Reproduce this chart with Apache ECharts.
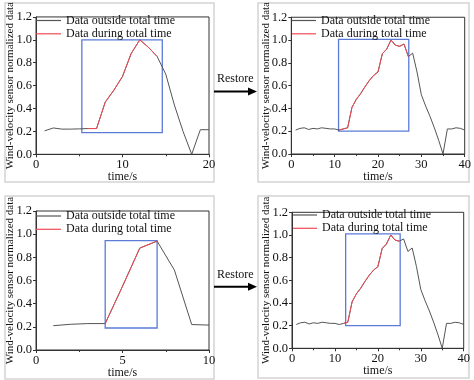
<!DOCTYPE html>
<html lang="en">
<head>
    <meta charset="UTF-8">
    <title>Restore</title>
    <script src="https://cdn.jsdelivr.net/npm/echarts@6/dist/echarts.min.js"></script>
    <style>
        html, body { margin: 0; padding: 0; background: #fff; }
        #main { width: 474px; height: 380px; }
    </style>
</head>
<body>
<div id="main"></div>
<script>
    // 数据
    var outsideName = 'Data outside total time';
    var duringName = 'Data during total time';

    var time1 = [1, 2, 3, 4, 5, 6, 7, 8, 9, 10, 11, 12, 13, 14, 15, 16, 17, 18, 19, 20];
    var value1 = [0.205, 0.23, 0.22, 0.22, 0.222, 0.225, 0.225, 0.455, 0.56, 0.68,
                  0.88, 1.0, 0.935, 0.855, 0.70, 0.43, 0.20, 0.0, 0.215, 0.215];
    var redTime1 = [6, 7, 8, 9, 10, 11, 12, 13, 14];
    var redValue1 = [0.225, 0.225, 0.455, 0.56, 0.68, 0.88, 1.0, 0.935, 0.855];
    var box1 = [5.3, 0.19, 14.6, 1.0];

    var time2 = [1, 2, 3, 4, 5, 6, 7, 8, 9, 10, 11, 12, 13, 14, 15, 16, 17, 18, 19, 20,
                 21, 22, 23, 24, 25, 26, 27, 28, 29, 30, 31, 32, 33, 34, 35, 36, 37, 38, 39, 40];
    var value2 = [0.21, 0.225, 0.23, 0.215, 0.225, 0.22, 0.23, 0.225, 0.22, 0.22,
                  0.21, 0.22, 0.23, 0.41, 0.48, 0.53, 0.59, 0.645, 0.69, 0.72,
                  0.88, 0.92, 1.0, 0.955, 0.945, 0.965, 0.855, 0.885, 0.72, 0.52,
                  0.42, 0.33, 0.23, 0.12, 0.0, 0.22, 0.22, 0.23, 0.225, 0.21];
    var redTime2 = [11, 12, 13, 14, 15, 16, 17, 18, 19, 20, 21, 22, 23, 24, 25, 26, 27];
    var redValue2 = [0.21, 0.22, 0.23, 0.41, 0.48, 0.53, 0.59, 0.645, 0.69, 0.72,
                     0.88, 0.92, 1.0, 0.955, 0.945, 0.965, 0.855];
    var box2 = [10.9, 0.2, 27.1, 1.005];

    var time3 = [1, 2, 3, 4, 5, 6, 7, 8, 9, 10];
    var value3 = [0.21, 0.222, 0.228, 0.228, 0.55, 0.88, 0.94, 0.69, 0.22, 0.215];
    var redTime3 = [4, 5, 6, 7];
    var redValue3 = [0.228, 0.55, 0.88, 0.94];
    var box3 = [4.0, 0.19, 7.0, 0.945];

    var time4 = time2;
    var value4 = value2;
    var redTime4 = [12, 13, 14, 15, 16, 17, 18, 19, 20, 21, 22, 23, 24, 25];
    var redValue4 = [0.22, 0.23, 0.41, 0.48, 0.53, 0.59, 0.645, 0.69, 0.72,
                     0.88, 0.92, 1.0, 0.955, 0.945];
    var box4 = [12.5, 0.2, 25.2, 1.01];

    var xMax = [20, 40, 10, 40];
    var xInterval = [10, 10, 5, 10];

    var FONT = '"Liberation Serif", "Times New Roman", serif';
    var GRAY = '#555';
    var RED = '#f04a55';
    var BLUE = '#5b7bd6';

    function pairs(t, v) {
        return t.map(function (x, i) { return [x, v[i]]; });
    }

    var grids = [
        { left: 36, top: 15.7, width: 173, height: 138.6 },
        { left: 291.3, top: 14.3, width: 173.4, height: 139.7 },
        { left: 36, top: 211, width: 173, height: 140 },
        { left: 292, top: 212.3, width: 171.7, height: 136 }
    ];
    var legendPos = [
        { left: 36, top: 14.5, w: 25 },
        { left: 292, top: 14.5, w: 24 },
        { left: 36, top: 210, w: 25 },
        { left: 293, top: 209, w: 24 }
    ];
    var lines = [
        [time1, value1, redTime1, redValue1, box1],
        [time2, value2, redTime2, redValue2, box2],
        [time3, value3, redTime3, redValue3, box3],
        [time4, value4, redTime4, redValue4, box4]
    ];

    var option = {
        animation: false,
        backgroundColor: '#fff',
        textStyle: { fontFamily: FONT },
        grid: [], xAxis: [], yAxis: [], legend: [], series: [],
        graphic: []
    };

    grids.forEach(function (g, i) {
        option.grid.push({
            left: g.left, top: g.top, width: g.width, height: g.height,
            show: true, borderColor: '#333', borderWidth: 1, backgroundColor: 'transparent'
        });
        option.xAxis.push({
            gridIndex: i, type: 'value', min: 0, max: xMax[i], interval: xInterval[i],
            name: 'time/s', nameLocation: 'middle', nameGap: 17, nameMoveOverlap: false,
            nameTextStyle: { fontFamily: FONT, fontSize: 12, color: '#111' },
            axisLine: { show: true, lineStyle: { color: '#333', width: 1 } },
            axisTick: { show: true, length: 3, lineStyle: { color: '#333' } },
            minorTick: { show: true, splitNumber: 2, length: 2, lineStyle: { color: '#333' } },
            axisLabel: { fontFamily: FONT, fontSize: 12.5, color: '#111', margin: 4 },
            splitLine: { show: false }
        });
        option.yAxis.push({
            gridIndex: i, type: 'value', min: 0, max: 1.2, interval: 0.2,
            name: 'Wind-velocity sensor normalized data', nameLocation: 'middle', nameGap: 20,
            nameMoveOverlap: false,
            nameTextStyle: { fontFamily: FONT, fontSize: 11, color: '#111' },
            axisLine: { show: true, lineStyle: { color: '#333', width: 1 } },
            axisTick: { show: true, length: 3, lineStyle: { color: '#333' } },
            axisLabel: {
                fontFamily: FONT, fontSize: 12.5, color: '#111', margin: 4,
                formatter: function (v) { return v.toFixed(1); }
            },
            splitLine: { show: false }
        });
        var lp = legendPos[i];
        option.legend.push({
            left: lp.left, top: lp.top, orient: 'vertical', padding: 0,
            icon: 'rect', itemWidth: lp.w, itemHeight: 1.2, itemGap: 1.3,
            data: [outsideName, duringName],
            textStyle: { fontFamily: FONT, fontSize: 12, color: '#111', lineHeight: 12 }
        });
        var d = lines[i];
        var b = d[4];
        option.series.push({
            name: outsideName, type: 'line', xAxisIndex: i, yAxisIndex: i,
            data: pairs(d[0], d[1]), symbol: 'none', z: 2,
            lineStyle: { color: GRAY, width: 1 }, itemStyle: { color: GRAY }
        });
        option.series.push({
            name: duringName, type: 'line', xAxisIndex: i, yAxisIndex: i,
            data: pairs(d[2], d[3]), symbol: 'none', z: 3,
            lineStyle: { color: RED, width: 1 }, itemStyle: { color: RED },
            markArea: {
                silent: true,
                itemStyle: { color: 'rgba(0,0,0,0)', borderColor: BLUE, borderWidth: 1.3 },
                data: [[{ xAxis: b[0], yAxis: b[1] }, { xAxis: b[2], yAxis: b[3] }]]
            }
        });
    });

    // 外框与箭头
    var frames = [[5, 3, 209, 179], [258, 3, 211, 179], [5, 196, 209, 183], [258, 196, 211, 182]];
    frames.forEach(function (f) {
        option.graphic.push({
            type: 'rect', z: -10, silent: true,
            shape: { x: f[0], y: f[1], width: f[2], height: f[3] },
            style: { fill: 'none', stroke: '#d4d4d4', lineWidth: 1.5 }
        });
    });
    [[91.5, 80], [286.7, 276]].forEach(function (a) {
        option.graphic.push({
            type: 'line', silent: true,
            shape: { x1: 214, y1: a[0], x2: 249, y2: a[0] },
            style: { stroke: '#000', lineWidth: 2 }
        });
        option.graphic.push({
            type: 'polygon', silent: true,
            shape: { points: [[248, a[0] - 4], [257, a[0]], [248, a[0] + 4]] },
            style: { fill: '#000' }
        });
        option.graphic.push({
            type: 'text', silent: true, left: 217, top: a[1] - 7,
            style: { text: 'Restore', font: '12px ' + FONT, fill: '#111' }
        });
    });

    var myChart = echarts.init(document.getElementById('main'));
    myChart.setOption(option);
</script>
</body>
</html>
